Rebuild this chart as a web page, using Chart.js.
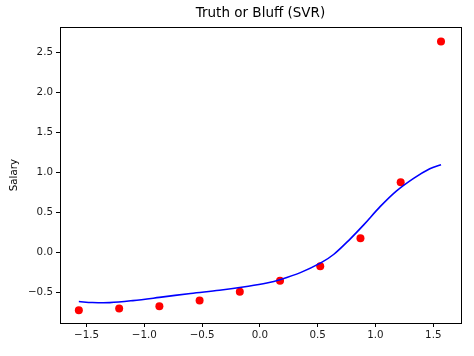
<!DOCTYPE html>
<html>
<head>
<meta charset="utf-8">
<script src="https://cdn.jsdelivr.net/npm/chart.js@4/dist/chart.umd.min.js"></script>
<style>
html,body{margin:0;padding:0;background:#fff;}
#wrap{width:474px;height:356px;}
</style>
</head>
<body>
<div id="wrap"><canvas id="c" width="474" height="356"></canvas></div>
<script>
// Observed data (scaled position level vs scaled salary)
const levelX = [-1.567, -1.218, -0.870, -0.522, -0.174, 0.174, 0.522, 0.870, 1.218, 1.567];
const salaryY = [-0.72, -0.70, -0.67, -0.60, -0.49, -0.35, -0.17, 0.18, 0.88, 2.64];

// SVR prediction curve
const curveX = [-1.567, -1.45, -1.3, -1.1, -0.87, -0.6, -0.35, -0.1, 0.06, 0.18, 0.35, 0.53, 0.64, 0.78, 0.9, 1.04, 1.18, 1.33, 1.47, 1.567];
const curveY = [-0.612, -0.624, -0.625, -0.60, -0.56, -0.51, -0.47, -0.42, -0.38, -0.335, -0.25, -0.125, -0.02, 0.17, 0.35, 0.575, 0.77, 0.93, 1.05, 1.10];

const xTicks = [-1.5, -1.0, -0.5, 0.0, 0.5, 1.0, 1.5];
const yTicks = [-0.5, 0.0, 0.5, 1.0, 1.5, 2.0, 2.5];

const FONT = 'DejaVu Sans';
const fmt = v => (v < 0 ? '\u2212' : '') + Math.abs(v).toFixed(1);

const framePlugin = {
  id: 'frame',
  afterDraw(chart) {
    const a = chart.chartArea, ctx = chart.ctx;
    ctx.save();
    ctx.strokeStyle = '#000';
    ctx.lineWidth = 1;
    ctx.strokeRect(Math.round(a.left) + 0.5, Math.round(a.top) + 0.5, Math.round(a.right - a.left), Math.round(a.bottom - a.top));
    ctx.restore();
  }
};

new Chart(document.getElementById('c'), {
  type: 'scatter',
  data: {
    datasets: [
      {
        type: 'line',
        data: curveX.map((x, i) => ({x, y: curveY[i]})),
        borderColor: '#0000ff',
        borderWidth: 1.6,
        pointRadius: 0,
        fill: false,
        tension: 0.35,
        order: 0
      },
      {
        type: 'scatter',
        data: levelX.map((x, i) => ({x, y: salaryY[i]})),
        backgroundColor: '#ff0000',
        borderWidth: 0,
        pointRadius: 4,
        order: 1
      }
    ]
  },
  options: {
    responsive: false,
    animation: false,
    events: [],
    layout: {padding: {left: 0, right: 13, top: 0, bottom: 0}},
    plugins: {
      legend: {display: false},
      tooltip: {enabled: false},
      title: {
        display: true,
        fullSize: false,
        text: 'Truth or Bluff (SVR)',
        color: '#000',
        font: {family: FONT, size: 13.5, weight: 'normal', lineHeight: 1.2},
        padding: {top: 5, bottom: 6}
      }
    },
    scales: {
      x: {
        type: 'linear',
        min: -1.73, max: 1.74,
        afterBuildTicks: s => { s.ticks = xTicks.map(v => ({value: v})); },
        afterFit: s => { s.height = 33; },
        ticks: {callback: v => fmt(v), color: '#1a1a1a', font: {family: FONT, size: 10.3}, padding: 2, maxRotation: 0, autoSkip: false},
        grid: {drawOnChartArea: false, drawTicks: true, tickLength: 4, color: '#000', tickColor: '#000'},
        border: {display: true, color: '#000'}
      },
      y: {
        type: 'linear',
        min: -0.88, max: 2.82,
        afterBuildTicks: s => { s.ticks = yTicks.map(v => ({value: v})); },
        afterFit: s => { s.width = 60; },
        ticks: {callback: v => fmt(v), color: '#1a1a1a', font: {family: FONT, size: 10.3}, padding: 3, autoSkip: false},
        grid: {drawOnChartArea: false, drawTicks: true, tickLength: 4, color: '#000', tickColor: '#000'},
        border: {display: true, color: '#000'},
        title: {display: true, text: 'Salary', color: '#000', font: {family: FONT, size: 10.3}, padding: {top: 8, bottom: 0}}
      }
    }
  },
  plugins: [framePlugin]
});
</script>
</body>
</html>
